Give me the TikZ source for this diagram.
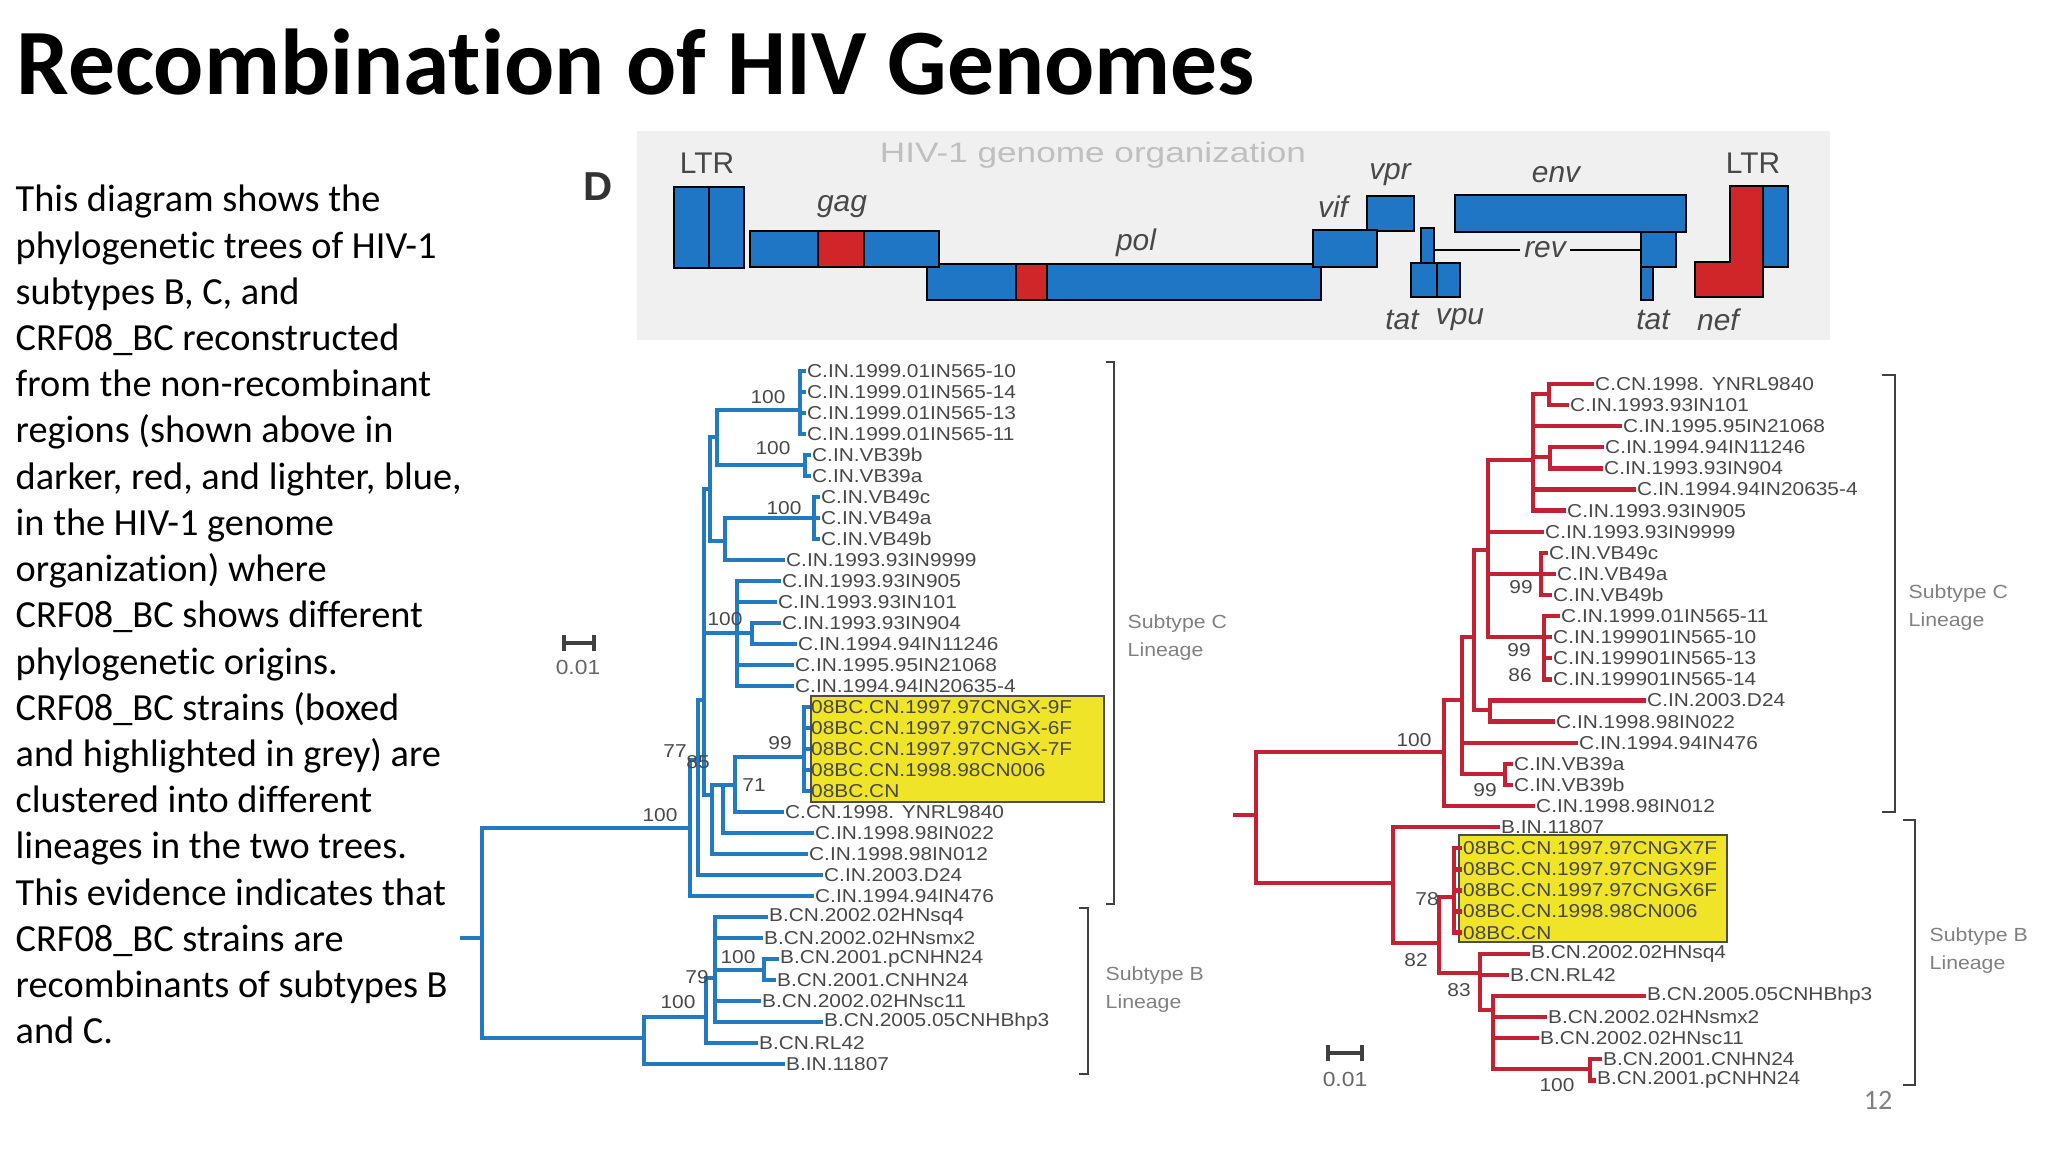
\documentclass[tikz,border=0pt]{standalone}
\usepackage{fontspec}
\setmainfont{Carlito}[Ligatures=NoCommon]
\newfontfamily\treefont{Liberation Sans}[FakeStretch=1.12]
\newfontfamily\genfont{Liberation Sans}
\newfontfamily\widefont{Liberation Sans}[FakeStretch=1.25]
\usetikzlibrary{positioning}
\definecolor{hivblue}{RGB}{30,118,196}
\definecolor{hivred}{RGB}{208,38,42}
\definecolor{treeblue}{RGB}{34,122,192}
\definecolor{treered}{RGB}{196,34,52}
\definecolor{boxyellow}{RGB}{240,228,40}
\definecolor{labgrey}{RGB}{72,72,72}

\tikzset{
  bodyline/.style={anchor=base west, inner sep=0pt, font=\fontsize{10.9}{13}\selectfont},
  taxon/.style={anchor=west, inner sep=0.7pt, text=labgrey, font=\treefont\fontsize{5.3}{6}\selectfont},
  boot/.style={inner sep=0pt, text=labgrey, font=\treefont\fontsize{5.3}{6}\selectfont},
  lineage/.style={anchor=west, align=left, inner sep=0pt, text=black!50, font=\treefont\fontsize{5.4}{8}\selectfont},
  blueedge/.style={treeblue, line width=1.25pt, line cap=rect},
  rededge/.style={treered, line width=1.25pt, line cap=rect},
  gene/.style={draw=black, line width=0.8pt, fill=hivblue},
  genered/.style={draw=black, line width=0.8pt, fill=hivred},
  genelab/.style={inner sep=1pt, text=labgrey, font=\genfont\itshape\fontsize{8.5}{10}\selectfont},
  bracket/.style={draw=black!75, line width=0.8pt},
  hlbox/.style={fill=boxyellow, draw=black!70, line width=0.6pt},
  scalebar/.style={draw=black!75, line width=1pt}
}

\begin{document}
\begin{tikzpicture}[x=0.01cm,y=-0.01cm]
\useasboundingbox (0,0) rectangle (2048,1152);

% title and explanation
\node[anchor=base west, inner sep=0pt, font=\bfseries\fontsize{26.6}{30}\selectfont] (title) at (16,95) {Recombination of HIV Genomes};
\foreach \l [count=\k] in {{This diagram shows the}, {phylogenetic trees of HIV-1}, {subtypes B, C, and},
  {CRF08\_BC reconstructed}, {from the non-recombinant}, {regions (shown above in},
  {darker, red, and lighter, blue,}, {in the HIV-1 genome}, {organization) where},
  {CRF08\_BC shows different}, {phylogenetic origins.}, {CRF08\_BC strains (boxed},
  {and highlighted in grey) are}, {clustered into different}, {lineages in the two trees.},
  {This evidence indicates that}, {CRF08\_BC strains are}, {recombinants of subtypes B}, {and C.}}
  \node[bodyline] (txt\k) at (15,{212+46.2*(\k-1)}) {\l};

% genome panel
\fill[black!6] (637,131) rectangle (1830,340);
\node[text=black!80, font=\genfont\bfseries\fontsize{11.5}{12}\selectfont] (panelD) at (598,187) {D};
\node[text=black!25, font=\widefont\fontsize{8}{10}\selectfont] (gtitle) at (1093,155) {HIV-1 genome organization};
\filldraw[gene] (674,187) rectangle (709,268);
\filldraw[gene] (709,187) rectangle (744,268);
\filldraw[gene] (927,264) rectangle (1016,300);
\filldraw[genered] (1016,264) rectangle (1047,300);
\filldraw[gene] (1047,264) rectangle (1321,300);
\filldraw[gene] (750,231) rectangle (818,267);
\filldraw[genered] (818,231) rectangle (864,267);
\filldraw[gene] (864,231) rectangle (939,267);
\filldraw[gene] (1367,196) rectangle (1414,231);
\filldraw[gene] (1313,230) rectangle (1377,267);
\filldraw[gene] (1455,195) rectangle (1686,232);
\filldraw[gene] (1421,228) rectangle (1434,263);
\filldraw[gene] (1411,263) rectangle (1437,297);
\filldraw[gene] (1437,263) rectangle (1460,297);
\filldraw[gene] (1641,232) rectangle (1676,267);
\filldraw[gene] (1641,267) rectangle (1653,300);
\filldraw[genered] (1695,262) -- (1730,262) -- (1730,186) -- (1763,186) -- (1763,297) -- (1695,297) -- cycle;
\filldraw[gene] (1763,186) rectangle (1788,267);
\node[genelab] (revlab) at (1545,250) {rev};
\coordinate (revL) at (1434,250);
\coordinate (revR) at (1641,250);
\draw[line width=0.8pt] (revL) -- (revlab.west);
\draw[line width=0.8pt] (revlab.east) -- (revR);
\node[genelab, font=\genfont\fontsize{8.5}{10}\selectfont] (ltrL) at (707,163) {LTR};
\node[genelab, font=\genfont\fontsize{8.5}{10}\selectfont] (ltrR) at (1753,163) {LTR};
\foreach \x/\y/\g/\n in {842/207/gag/gag, 1136/243/pol/pol, 1333/207/vif/vif, 1390/175/vpr/vpr,
  1556/175/env/env, 1402/320/tat/tatA, 1460/320/vpu/vpu, 1653/320/tat/tatB, 1718/320/nef/nef}
  \node[genelab] (\n) at (\x,\y) {\g};

% left tree (blue)
\fill[hlbox] (811,696) rectangle (1104,802);
\foreach \i/\x/\lab in {1/804/C.IN.1999.01IN565-10, 2/804/C.IN.1999.01IN565-14, 3/804/C.IN.1999.01IN565-13,
  4/804/C.IN.1999.01IN565-11, 5/809/C.IN.VB39b, 6/809/C.IN.VB39a, 7/818/C.IN.VB49c, 8/818/C.IN.VB49a,
  9/818/C.IN.VB49b, 10/783/C.IN.1993.93IN9999, 11/779/C.IN.1993.93IN905, 12/775/C.IN.1993.93IN101,
  13/779/C.IN.1993.93IN904, 14/795/C.IN.1994.94IN11246, 15/792/C.IN.1995.95IN21068,
  16/792/C.IN.1994.94IN20635-4, 17/808/08BC.CN.1997.97CNGX-9F, 18/808/08BC.CN.1997.97CNGX-6F,
  19/808/08BC.CN.1997.97CNGX-7F, 20/808/08BC.CN.1998.98CN006, 21/808/08BC.CN,
  22/782/C.CN.1998. YNRL9840, 23/812/C.IN.1998.98IN022, 24/806/C.IN.1998.98IN012,
  25/821/C.IN.2003.D24, 26/812/C.IN.1994.94IN476, 27/766/B.CN.2002.02HNsq4,
  28/761/B.CN.2002.02HNsmx2, 29/777/B.CN.2001.pCNHN24, 30/774/B.CN.2001.CNHN24,
  31/759/B.CN.2002.02HNsc11, 32/821/B.CN.2005.05CNHBhp3, 33/756/B.CN.RL42, 34/783/B.IN.11807}
  \node[taxon] (tL\i) at (\x,{371+21*(\i-1)}) {\lab};

\coordinate (rootLs) at (462,938);
\coordinate (rootL) at (482,938);
\coordinate (cL) at (690,828);
\coordinate (qL) at (698,760);
\coordinate (rL) at (704,700);
\coordinate (abL) at (710,489);
\coordinate (aL) at (717,437);
\coordinate (n565L) at (800,410);
\coordinate (vb39L) at (805,465);
\coordinate (bbL) at (725,541);
\coordinate (vb49L) at (814,518);
\coordinate (dL) at (737,633);
\coordinate (n904L) at (752,633);
\coordinate (uL) at (712,795);
\coordinate (vL) at (723,785);
\coordinate (eL) at (735,785);
\coordinate (n08L) at (804,757);
\coordinate (bL) at (644,1038);
\coordinate (b1L) at (706,1017);
\coordinate (b2L) at (715,978);
\coordinate (b3L) at (764,970);

\draw[blueedge] (rootLs) -- (rootL);
\foreach \a/\b in {rootL/cL, rootL/bL, cL/qL, qL/rL, rL/abL, rL/dL, rL/uL, abL/aL, abL/bbL,
  aL/n565L, aL/vb39L, bbL/vb49L, dL/n904L, uL/vL, vL/eL, eL/n08L, bL/b1L, b1L/b2L, b2L/b3L}
  \draw[blueedge] (\a) |- (\b);
\foreach \a/\b in {n565L/1, n565L/2, n565L/3, n565L/4, vb39L/5, vb39L/6, vb49L/7, vb49L/8, vb49L/9,
  bbL/10, dL/11, dL/12, n904L/13, n904L/14, dL/15, dL/16, n08L/17, n08L/18, n08L/19, n08L/20,
  n08L/21, eL/22, vL/23, uL/24, qL/25, cL/26, b2L/27, b2L/28, b3L/29, b3L/30, b2L/31, b2L/32,
  b1L/33, bL/34}
  \draw[blueedge] (\a) |- (tL\b.west);

\foreach \x/\y/\v [count=\k] in {660/815/100, 768/397/100, 773/448/100, 784/508/100, 725/619/100,
  675/751/77, 698/762/85, 780/743/99, 754/785/71, 678/1002/100, 697/977/79, 738/957/100}
  \node[boot] (bsL\k) at (\x,\y) {\v};

% left brackets and scale
\coordinate (bkLCt) at (1106,362);
\coordinate (bkLCb) at (1106,904);
\draw[bracket] (bkLCt) -- ++(8,0) |- (bkLCb);
\coordinate (bkLBt) at (1079,908);
\coordinate (bkLBb) at (1079,1074);
\draw[bracket] (bkLBt) -- ++(9,0) |- (bkLBb);
\node[lineage] (linLC) at (1127,638) {Subtype C\\Lineage};
\node[lineage] (linLB) at (1105,990) {Subtype B\\Lineage};
\coordinate (sbLa) at (564,643);
\coordinate (sbLb) at (594,643);
\draw[scalebar] (sbLa) -- (sbLb);
\draw[scalebar] ([yshift=-2.2pt]sbLa) -- ([yshift=2.2pt]sbLa);
\draw[scalebar] ([yshift=-2.2pt]sbLb) -- ([yshift=2.2pt]sbLb);
\node[boot, text=black!60, font=\treefont\fontsize{5.8}{6}\selectfont] (sbLt) at (578,667) {0.01};

% right tree (red)
\fill[hlbox] (1459,835) rectangle (1727,942);
\foreach \i/\x/\lab in {1/1592/C.CN.1998. YNRL9840, 2/1567/C.IN.1993.93IN101, 3/1620/C.IN.1995.95IN21068,
  4/1602/C.IN.1994.94IN11246, 5/1601/C.IN.1993.93IN904, 6/1634/C.IN.1994.94IN20635-4,
  7/1564/C.IN.1993.93IN905, 8/1542/C.IN.1993.93IN9999, 9/1546/C.IN.VB49c, 10/1554/C.IN.VB49a,
  11/1550/C.IN.VB49b, 12/1558/C.IN.1999.01IN565-11, 13/1550/C.IN.199901IN565-10,
  14/1550/C.IN.199901IN565-13, 15/1550/C.IN.199901IN565-14, 16/1644/C.IN.2003.D24,
  17/1553/C.IN.1998.98IN022, 18/1576/C.IN.1994.94IN476, 19/1511/C.IN.VB39a, 20/1511/C.IN.VB39b,
  21/1533/C.IN.1998.98IN012, 22/1498/B.IN.11807, 23/1460/08BC.CN.1997.97CNGX7F,
  24/1460/08BC.CN.1997.97CNGX9F, 25/1460/08BC.CN.1997.97CNGX6F, 26/1460/08BC.CN.1998.98CN006,
  27/1460/08BC.CN, 28/1528/B.CN.2002.02HNsq4, 29/1507/B.CN.RL42, 30/1644/B.CN.2005.05CNHBhp3,
  31/1545/B.CN.2002.02HNsmx2, 32/1537/B.CN.2002.02HNsc11, 33/1600/B.CN.2001.CNHN24,
  34/1594/B.CN.2001.pCNHN24}
  \node[taxon] (tR\i) at (\x,{384+21.1*(\i-1)}) {\lab};

\coordinate (rootRs) at (1235,815);
\coordinate (rootR) at (1256,815);
\coordinate (cR) at (1444,752);
\coordinate (gR) at (1462,700);
\coordinate (hR) at (1474,637);
\coordinate (iR) at (1488,550);
\coordinate (r2R) at (1533,460);
\coordinate (r1R) at (1549,394);
\coordinate (r45R) at (1550,457);
\coordinate (vb49R) at (1541,574);
\coordinate (n565R) at (1544,637);
\coordinate (dR) at (1490,710);
\coordinate (vb39R) at (1505,774);
\coordinate (bR) at (1393,883);
\coordinate (xR) at (1439,943);
\coordinate (n08R) at (1454,897);
\coordinate (yR) at (1480,973);
\coordinate (zR) at (1493,1010);
\coordinate (w24R) at (1590,1069);

\draw[rededge] (rootRs) -- (rootR);
\foreach \a/\b in {rootR/cR, rootR/bR, cR/gR, gR/hR, gR/vb39R, hR/iR, hR/dR, iR/r2R, iR/vb49R,
  iR/n565R, r2R/r1R, r2R/r45R, bR/xR, xR/n08R, xR/yR, yR/zR, zR/w24R}
  \draw[rededge] (\a) |- (\b);
\foreach \a/\b in {r1R/1, r1R/2, r2R/3, r45R/4, r45R/5, r2R/6, r2R/7, iR/8, vb49R/9, vb49R/10,
  vb49R/11, n565R/12, n565R/13, n565R/14, n565R/15, dR/16, dR/17, gR/18, vb39R/19, vb39R/20,
  cR/21, bR/22, n08R/23, n08R/24, n08R/25, n08R/26, n08R/27, yR/28, yR/29, zR/30, zR/31, zR/32,
  w24R/33, w24R/34}
  \draw[rededge] (\a) |- (tR\b.west);

\foreach \x/\y/\v [count=\k] in {1521/587/99, 1519/650/99, 1520/675/86, 1414/740/100, 1485/790/99,
  1427/899/78, 1416/960/82, 1459/990/83, 1557/1085/100}
  \node[boot] (bsR\k) at (\x,\y) {\v};

% right brackets and scale
\coordinate (bkRCt) at (1882,375);
\coordinate (bkRCb) at (1882,812);
\draw[bracket] (bkRCt) -- ++(13,0) |- (bkRCb);
\coordinate (bkRBt) at (1903,820);
\coordinate (bkRBb) at (1903,1085);
\draw[bracket] (bkRBt) -- ++(12,0) |- (bkRBb);
\node[lineage] (linRC) at (1908,608) {Subtype C\\Lineage};
\node[lineage] (linRB) at (1929,951) {Subtype B\\Lineage};
\coordinate (sbRa) at (1328,1053);
\coordinate (sbRb) at (1362,1053);
\draw[scalebar] (sbRa) -- (sbRb);
\draw[scalebar] ([yshift=-2.2pt]sbRa) -- ([yshift=2.2pt]sbRa);
\draw[scalebar] ([yshift=-2.2pt]sbRb) -- ([yshift=2.2pt]sbRb);
\node[boot, text=black!60, font=\treefont\fontsize{5.8}{6}\selectfont] (sbRt) at (1345,1079) {0.01};

\node[text=black!50, font=\fontsize{8}{9}\selectfont] (pagenum) at (1878,1100) {12};
\end{tikzpicture}
\end{document}
